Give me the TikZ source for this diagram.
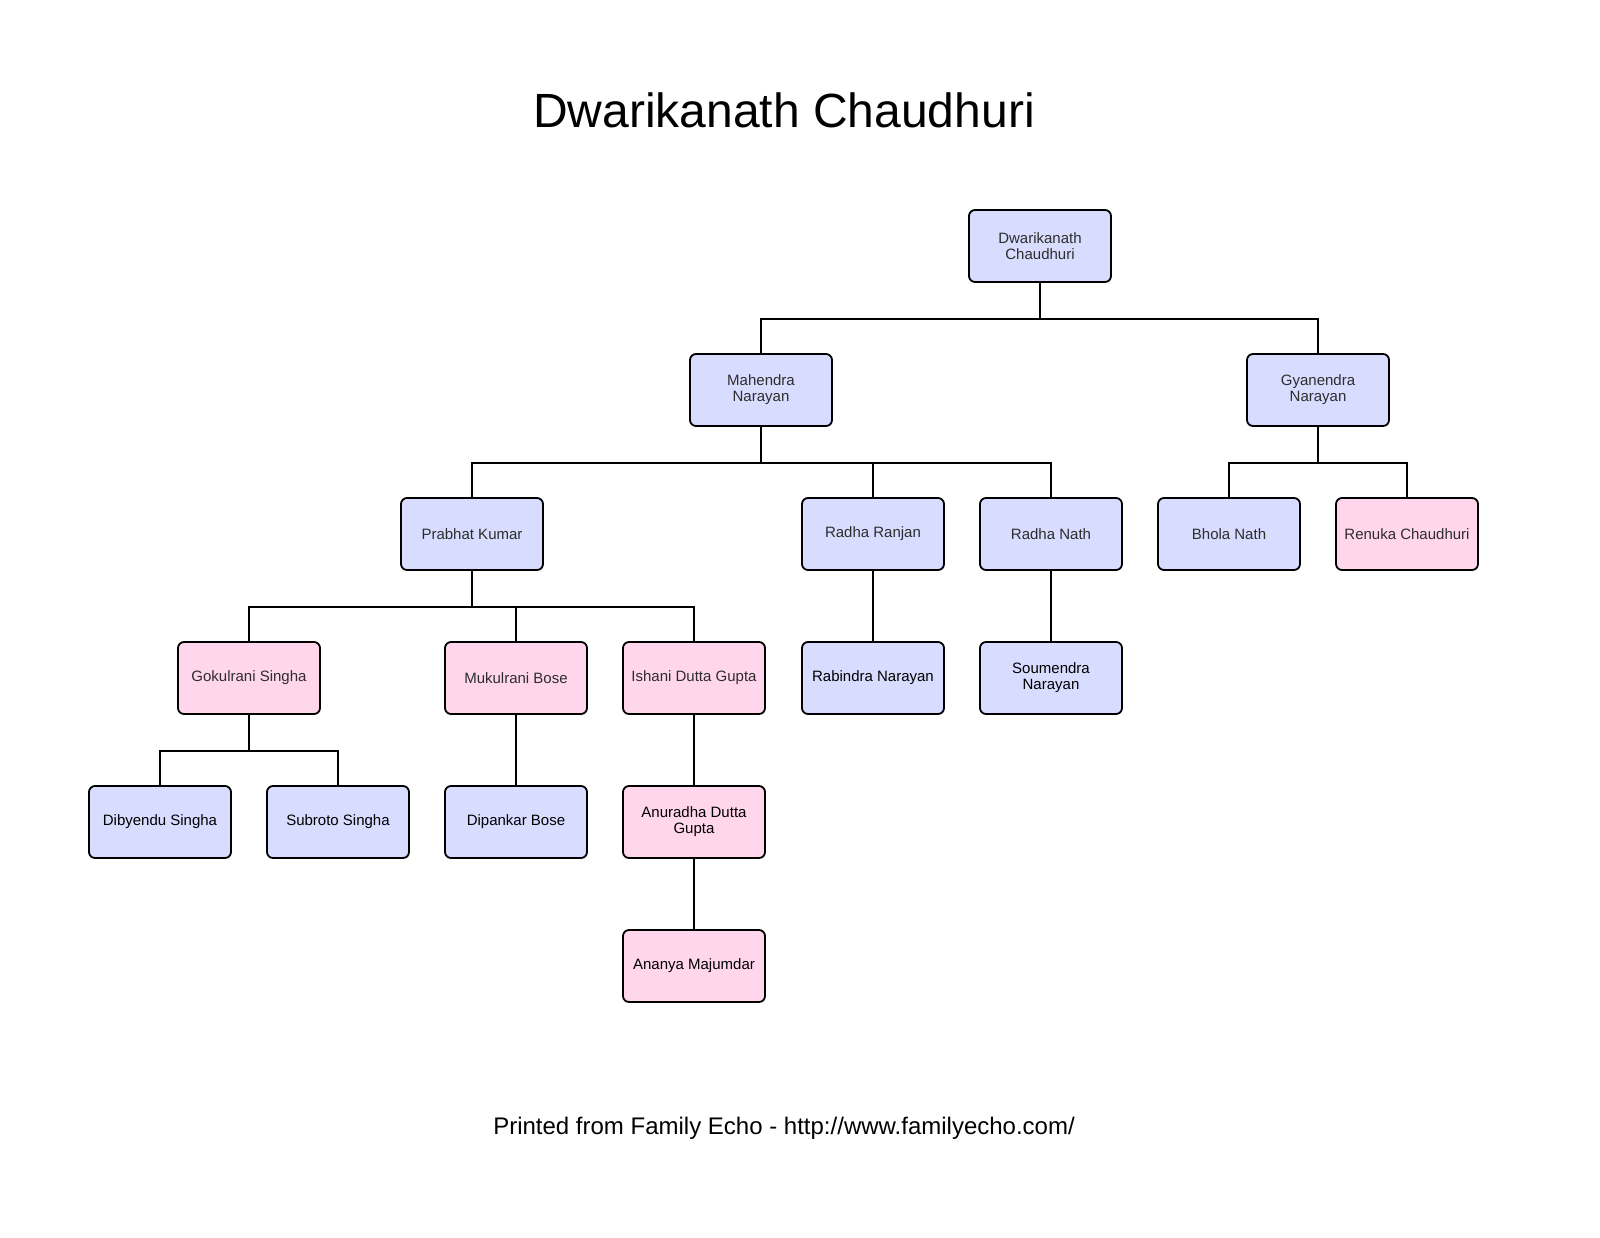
\documentclass[tikz,border=0pt]{standalone}
\usepackage{fontspec}
\setmainfont{Liberation Sans}
\definecolor{mb}{RGB}{216,220,255}
\definecolor{fp}{RGB}{255,214,236}
\definecolor{tx}{RGB}{45,45,45}
\begin{document}
\begin{tikzpicture}[x=1pt,y=-1pt,
 person/.style={draw=black,line width=1.8pt,rounded corners=6pt,minimum width=142pt,minimum height=72pt,inner sep=2pt,align=center,font=\fontsize{15}{16}\selectfont,text=tx},
 m/.style={person,fill=mb}, f/.style={person,fill=fp},
 link/.style={line width=1.8pt}]
\useasboundingbox (0,0) rectangle (1600,1237);
\node at (784,110) {\fontsize{48}{52}\selectfont Dwarikanath Chaudhuri};
\node at (784,1128) {\fontsize{24}{28}\selectfont Printed from Family Echo - http://www.familyecho.com/};
\node[m] (d) at (1040,246) {Dwarikanath\\Chaudhuri};
\node[m] (mn) at (761,390) {Mahendra\\Narayan};
\node[m] (gn) at (1318,390) {Gyanendra\\Narayan};
\node[m] (pk) at (472,534) {Prabhat Kumar};
\node[m] (rr) at (873,534) {Radha Ranjan};
\node[m] (rn) at (1051,534) {Radha Nath};
\node[m] (bn) at (1229,534) {Bhola Nath};
\node[f] (rc) at (1407,534) {Renuka Chaudhuri};
\node[f] (gs) at (249,678) {Gokulrani Singha};
\node[f] (mb) at (516,678) {Mukulrani Bose};
\node[f] (id) at (694,678) {Ishani Dutta Gupta};
\node[m,text=black] (rab) at (873,678) {Rabindra Narayan};
\node[m,text=black] (sn) at (1051,678) {Soumendra\\Narayan};
\node[m,text=black] (ds) at (160,822) {Dibyendu Singha};
\node[m,text=black] (ss) at (338,822) {Subroto Singha};
\node[m,text=black] (db) at (516,822) {Dipankar Bose};
\node[f,text=black] (ad) at (694,822) {Anuradha Dutta\\Gupta};
\node[f,text=black] (am) at (694,966) {Ananya Majumdar};
\foreach \p/\c in {d/mn,d/gn,mn/pk,mn/rr,mn/rn,gn/bn,gn/rc,pk/gs,pk/mb,pk/id,rr/rab,rn/sn,gs/ds,gs/ss,mb/db,id/ad,ad/am}
  \draw[link] (\p.south) -- ++(0,36) -| (\c.north);
\end{tikzpicture}
\end{document}
